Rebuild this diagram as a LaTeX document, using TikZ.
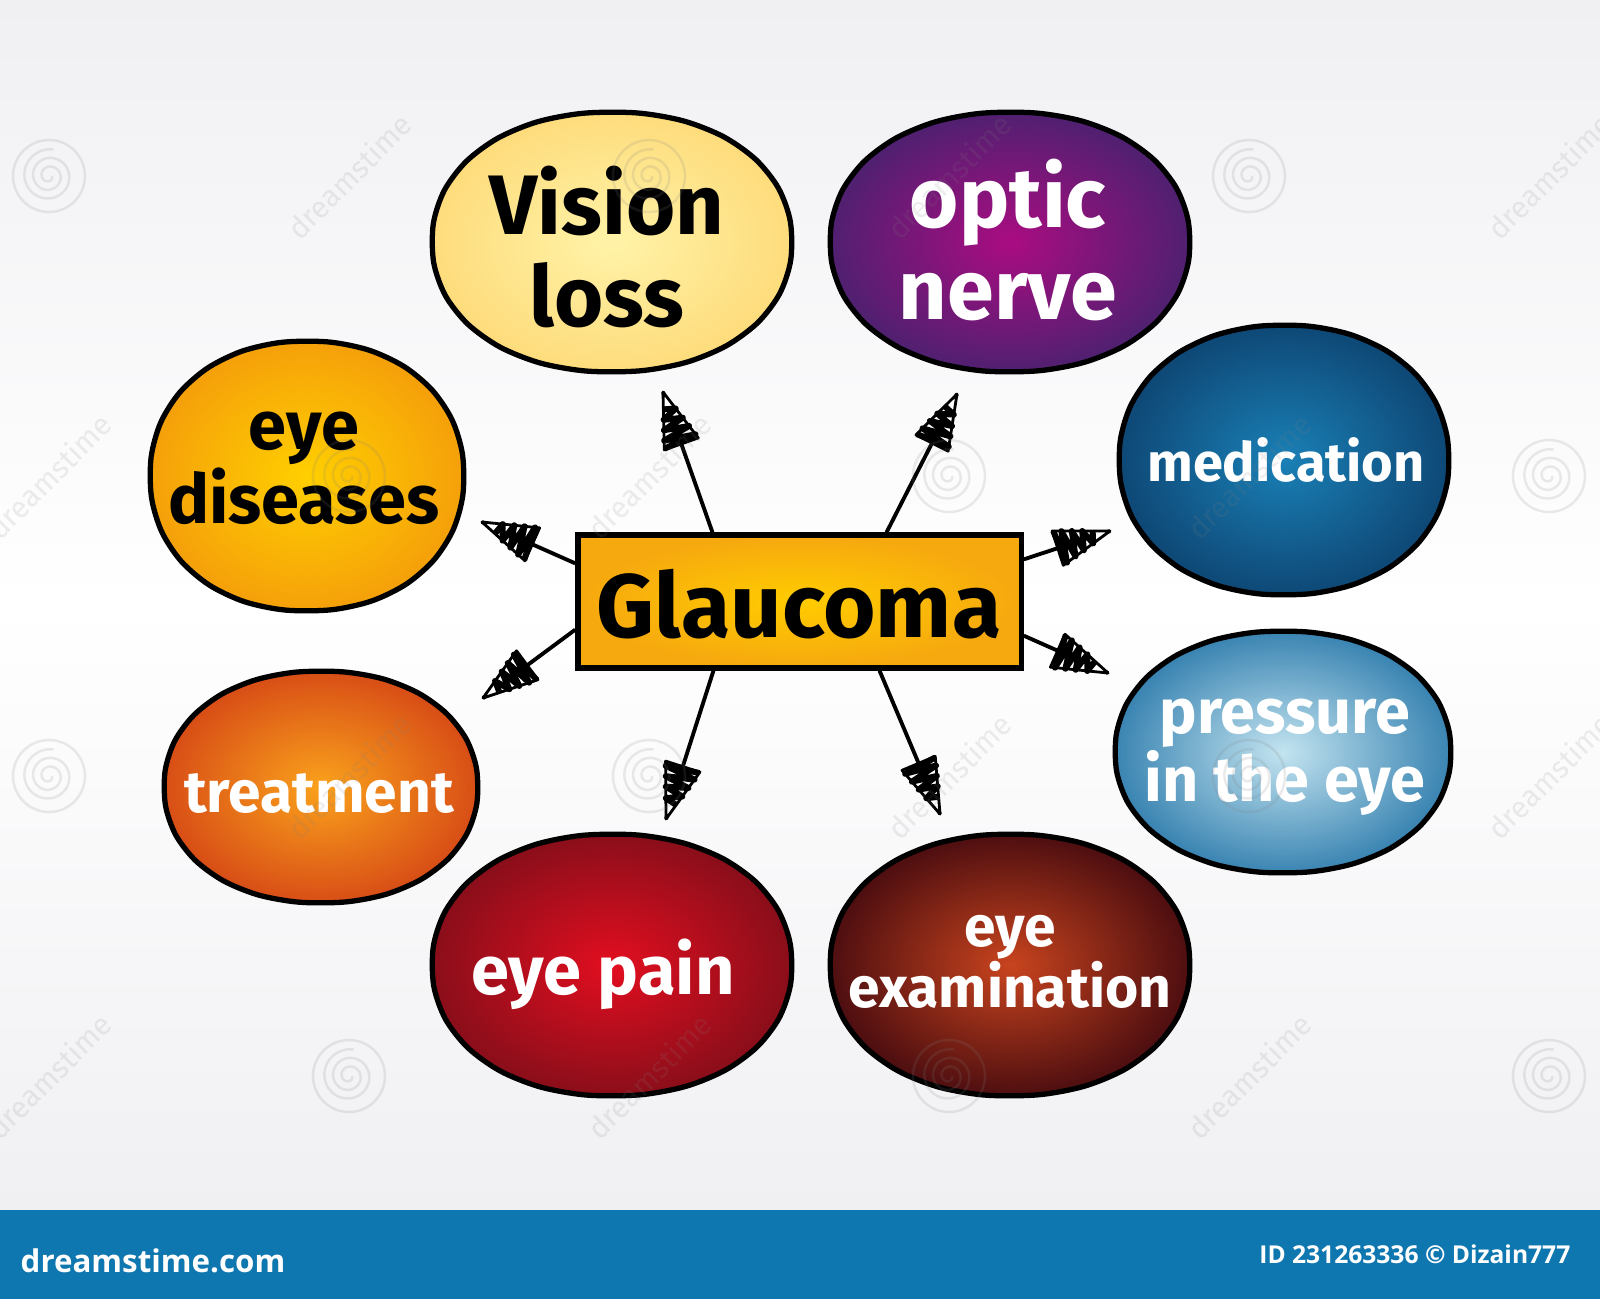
\documentclass[tikz,border=0pt]{standalone}
\usepackage{fontspec}
\setmainfont{Fira Sans}
\newfontfamily\footfont{Open Sans}
\usepackage{xcolor}
\usetikzlibrary{arrows.meta,positioning,shapes,calc}

\definecolor{bgedge}{HTML}{F0F0F3}
\definecolor{banner}{HTML}{0F77AF}
\definecolor{visionin}{HTML}{FFF3A8}
\definecolor{visionout}{HTML}{FEDC7C}
\definecolor{opticin}{HTML}{AA0C82}
\definecolor{opticout}{HTML}{502070}
\definecolor{medicationin}{HTML}{1A80B6}
\definecolor{medicationout}{HTML}{0E4876}
\definecolor{pressurein}{HTML}{C3E4F0}
\definecolor{pressureout}{HTML}{3A84B2}
\definecolor{examin}{HTML}{C8441E}
\definecolor{examout}{HTML}{4E0E10}
\definecolor{painin}{HTML}{E20E20}
\definecolor{painout}{HTML}{8A0E1A}
\definecolor{treatmentin}{HTML}{FAA21C}
\definecolor{treatmentout}{HTML}{D84E16}
\definecolor{diseasesin}{HTML}{FFCF00}
\definecolor{diseasesout}{HTML}{F5A00A}
\definecolor{boxin}{HTML}{FFCC00}
\definecolor{boxout}{HTML}{F6A80F}

\tikzset{
  outline/.style={draw=black, line width=1.5pt},
  word/.style={align=center, font=\bfseries\fontsize{#1}{1.08\dimexpr #1pt\relax}\selectfont, inner sep=0pt},
  word/.default=18,
  link/.style={line width=1.1pt, black},
  tipshape/.style={draw=black, fill=white, line width=0.8pt, line join=round},
  tipscribble/.style={black, line width=1.7pt, line join=round},
  wmark/.style={gray, opacity=0.14, font=\fontsize{8.5}{8.5}\selectfont, inner sep=0pt, rotate=45},
  wmspiral/.pic={
    \draw[gray, opacity=0.16, line width=0.7pt] (0,0) circle (36);
    \draw[gray, opacity=0.16, line width=0.7pt] plot[domain=0:1000, samples=70, smooth] ({(3+\x*0.024)*cos(\x)},{(3+\x*0.024)*sin(\x)});
  }
}

% filled hand-drawn looking bubble: centre x, centre y, half width, half height, name
\newcommand{\blob}[5]{
  \shadedraw[outline, inner color=#5in, outer color=#5out] plot[smooth cycle, domain=7:352, samples=24]
    ({#1+#3*cos(\x)*abs(cos(\x))^(-0.06)},{#2+#4*sin(\x)*abs(sin(\x))^(-0.06)});
}

\newcommand{\sketchtip}[2]{
  \coordinate (base) at ($(#2)!0.55cm!(#1)$);
  \coordinate (wingl) at ($(base)!0.18cm!90:(#2)$);
  \coordinate (wingr) at ($(base)!0.18cm!-90:(#2)$);
  \draw[tipshape] (#2) -- (wingl) -- (wingr) -- cycle;
  \draw[tipscribble] ($(#2)!.3!(wingl)$) -- ($(#2)!.36!(wingr)$) -- ($(#2)!.48!(wingl)$) -- ($(#2)!.56!(wingr)$) -- ($(#2)!.66!(wingl)$) -- ($(#2)!.74!(wingr)$) -- ($(#2)!.84!(wingl)$) -- ($(#2)!.92!(wingr)$) -- ($(#2)!.98!(wingl)$);
}

\begin{document}
\begin{tikzpicture}[x=0.01cm, y=-0.01cm]
\useasboundingbox (0,0) rectangle (1600,1299);

% Backdrop and footer band
\shade[top color=bgedge, bottom color=bgedge, middle color=white] (0,0) rectangle (1600,1210);
\fill[banner] (0,1210) rectangle (1600,1299);

% Outer bubbles
\blob{612}{242}{180}{130}{vision}
\blob{1010}{242}{180}{130}{optic}
\blob{1284}{460}{165}{135}{medication}
\blob{1283}{752}{168}{121}{pressure}
\blob{1010}{965}{180}{131}{exam}
\blob{612}{965}{180}{131}{pain}
\blob{321}{787}{157}{116}{treatment}
\blob{307}{476}{157}{135}{diseases}

% Bubble words
\node[word=24] (visionword) at (607,247) {Vision\\loss};
\node[word=24, white] (opticword) at (1008,240) {optic\\nerve};
\node[word=15.4, white] (medicationword) at (1286,460) {medication};
\node[word=17.9, white] (pressureword) at (1285,757) {pressure\\in the eye};
\node[word=16.2, white] (examword) at (1010,962) {eye\\examination};
\node[word=19.5, white] (painword) at (603,974) {eye pain};
\node[word=16.7, white] (treatmentword) at (319,793) {treatment};
\node[word=19.5] (diseasesword) at (304,468) {eye\\diseases};

% Central box
\node[outline, minimum width=4.43cm, minimum height=1.33cm, inner color=boxin, outer color=boxout, inner sep=0pt] (glaucoma) at (799.5,601.5) {};
\node[word=25.6] (glaucomaword) at (799,604) {Glaucoma};

% Loose ends of the arrows
\coordinate (startvision) at ([xshift=-0.87cm]glaucoma.north);
\coordinate (startoptic) at ([xshift=0.87cm]glaucoma.north);
\coordinate (startmedication) at ([yshift=-0.27cm]glaucoma.north east);
\coordinate (startpressure) at ([yshift=0.35cm]glaucoma.south east);
\coordinate (startexam) at ([xshift=0.8cm]glaucoma.south);
\coordinate (startpain) at ([xshift=-0.86cm]glaucoma.south);
\coordinate (starttreatment) at ([yshift=0.41cm]glaucoma.south west);
\coordinate (startdiseases) at ([yshift=-0.31cm]glaucoma.north west);
\coordinate (tipvision) at (663,392);
\coordinate (tipoptic) at (957,394);
\coordinate (tipmedication) at (1110,531);
\coordinate (tippressure) at (1108,673);
\coordinate (tipexam) at (940,814);
\coordinate (tippain) at (666,819);
\coordinate (tiptreatment) at (483,698);
\coordinate (tipdiseases) at (482,522);

% Arrows
\foreach \n in {vision,optic,medication,pressure,exam,pain,treatment,diseases} {
  \draw[link] (start\n) -- (tip\n);
  \sketchtip{start\n}{tip\n}
}

% Watermark
\foreach \x/\y in {49/176,49/776,349/476,349/1076,649/176,649/776,949/476,949/1076,1249/176,1249/776,1549/476,1549/1076}
  \pic at (\x,\y) {wmspiral};
\foreach \x/\y [count=\i] in {349/176,349/776,49/476,49/1076,649/476,649/1076,949/176,949/776,1249/476,1249/1076,1549/176,1549/776}
  \node[wmark] (mark\i) at (\x,\y) {dreamstime};

% Footer texts
\node[anchor=west, white, inner sep=0pt, font=\footfont\bfseries\fontsize{8.9}{8.9}\selectfont] (site) at (20,1261) {dreamstime.com};
\node[anchor=east, white, inner sep=0pt, font=\footfont\bfseries\fontsize{7}{7}\selectfont] (credit) at (1571,1254) {ID 231263336 © Dizain777};

\end{tikzpicture}
\end{document}
